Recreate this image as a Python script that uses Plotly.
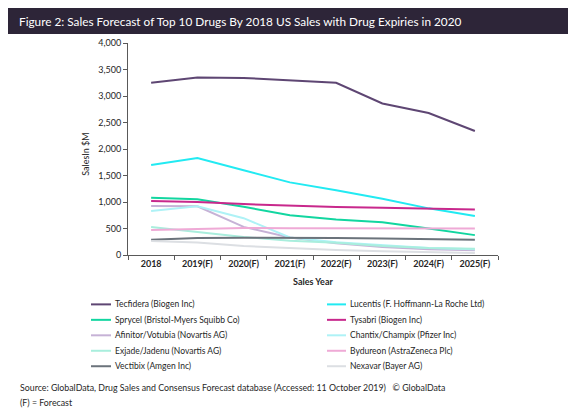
import plotly.graph_objects as go

years = ["2018", "2019(F)", "2020(F)", "2021(F)", "2022(F)", "2023(F)", "2024(F)", "2025(F)"]

tecfidera = [3250, 3350, 3340, 3290, 3250, 2860, 2680, 2340]
lucentis = [1700, 1830, 1600, 1370, 1220, 1060, 880, 735]
sprycel = [1080, 1050, 910, 750, 670, 620, 500, 375]
tysabri = [1020, 1000, 960, 930, 905, 890, 875, 857]
afinitor = [926, 920, 530, 330, 220, 150, 110, 90]
chantix = [832, 920, 695, 330, 240, 190, 130, 110]
exjade = [530, 440, 340, 270, 230, 170, 130, 120]
bydureon = [474, 490, 510, 505, 505, 505, 505, 500]
vectibix = [286, 323, 325, 328, 320, 310, 300, 286]
nexavar = [262, 235, 170, 130, 95, 70, 55, 40]

series_names = [
    "Tecfidera (Biogen Inc)",
    "Lucentis (F. Hoffmann-La Roche Ltd)",
    "Sprycel (Bristol-Myers Squibb Co)",
    "Tysabri (Biogen Inc)",
    "Afinitor/Votubia (Novartis AG)",
    "Chantix/Champix (Pfizer Inc)",
    "Exjade/Jadenu (Novartis AG)",
    "Bydureon (AstraZeneca Plc)",
    "Vectibix (Amgen Inc)",
    "Nexavar (Bayer AG)",
]
series_values = [tecfidera, lucentis, sprycel, tysabri, afinitor, chantix,
                 exjade, bydureon, vectibix, nexavar]
series_colors = ["#5E4673", "#22EAF2", "#12D6A0", "#C8288C", "#C6B2D6",
                 "#AEF2F6", "#A9EEDD", "#EFAAD6", "#6B737B", "#DCDFE3"]

y_ticks = [0, 500, 1000, 1500, 2000, 2500, 3000, 3500, 4000]

FONT = "Lato"
TXT = "#262626"

# plot area: x 120..490 px, y 35..247.5 px
L, R, T, B = 120, 490, 35, 247.5
W, H = 576, 412
pw, ph = R - L, B - T

def px(x):
    return (x - L) / pw

def py(y):
    return (B - y) / ph

fig = go.Figure()
for name, vals, col in zip(series_names, series_values, series_colors):
    fig.add_trace(go.Scatter(x=years, y=vals, name=name, mode="lines",
                             line=dict(color=col, width=2), showlegend=False))

shapes = [dict(type="rect", xref="paper", yref="paper",
               x0=px(0), x1=px(573), y0=py(26), y1=py(0),
               fillcolor="#2D2538", line=dict(width=0), layer="below")]

annotations = [
    dict(text="Figure 2: Sales Forecast of Top 10 Drugs By 2018 US Sales with Drug Expiries in 2020",
         xref="paper", yref="paper", x=px(9), y=py(13), xanchor="left", yanchor="middle",
         showarrow=False, font=dict(family=FONT, size=11.8, color="white")),
    dict(text="Sales Year", xref="paper", yref="paper", x=px(305), y=py(274),
         xanchor="center", yanchor="middle", showarrow=False,
         font=dict(family=FONT, size=9, color=TXT, weight="bold")),
    dict(text="SalesIn $M", xref="paper", yref="paper", x=px(78), y=py(147),
         xanchor="center", yanchor="middle", showarrow=False, textangle=-90,
         font=dict(family=FONT, size=9, color=TXT)),
    dict(text="Source: GlobalData, Drug Sales and Consensus Forecast database (Accessed: 11 October 2019)   \u00a9 GlobalData",
         xref="paper", yref="paper", x=px(10), y=py(380), xanchor="left", yanchor="middle",
         showarrow=False, font=dict(family=FONT, size=8.8, color=TXT)),
    dict(text="(F) = Forecast",
         xref="paper", yref="paper", x=px(10), y=py(395), xanchor="left", yanchor="middle",
         showarrow=False, font=dict(family=FONT, size=8.8, color=TXT)),
]

# manual two-column legend
col_line_x = [(83, 103), (319, 338)]
col_text_x = [105, 340]
row_y0, row_dy = 297, 15.5
for i, (name, col) in enumerate(zip(series_names, series_colors)):
    c, r = i % 2, i // 2
    yy = row_y0 + r * row_dy
    shapes.append(dict(type="line", xref="paper", yref="paper",
                       x0=px(col_line_x[c][0]), x1=px(col_line_x[c][1]),
                       y0=py(yy), y1=py(yy), line=dict(color=col, width=2)))
    annotations.append(dict(text=name, xref="paper", yref="paper",
                            x=px(col_text_x[c]), y=py(yy), xanchor="left", yanchor="middle",
                            showarrow=False, font=dict(family=FONT, size=8.5, color=TXT)))

fig.update_layout(
    width=W, height=H,
    margin=dict(l=L, r=W - R, t=T, b=H - B, autoexpand=False),
    paper_bgcolor="white", plot_bgcolor="white",
    font=dict(family=FONT, size=9, color=TXT),
    showlegend=False,
    xaxis=dict(
        type="category", range=[-0.5, 7.5], tickson="boundaries",
        ticks="outside", ticklen=4, tickcolor="#595959",
        showline=True, linecolor="#595959", linewidth=1,
        showgrid=False, zeroline=False, automargin=False,
        tickfont=dict(family=FONT, size=9, color=TXT, weight="bold"),
    ),
    yaxis=dict(
        range=[0, 4000], tickvals=y_ticks, tickformat=",",
        ticks="outside", ticklen=4, tickcolor="#595959",
        showline=True, linecolor="#595959", linewidth=1,
        showgrid=False, zeroline=False, automargin=False,
        tickfont=dict(family=FONT, size=9, color=TXT),
    ),
    shapes=shapes,
    annotations=annotations,
)

fig.write_html("out.html")
